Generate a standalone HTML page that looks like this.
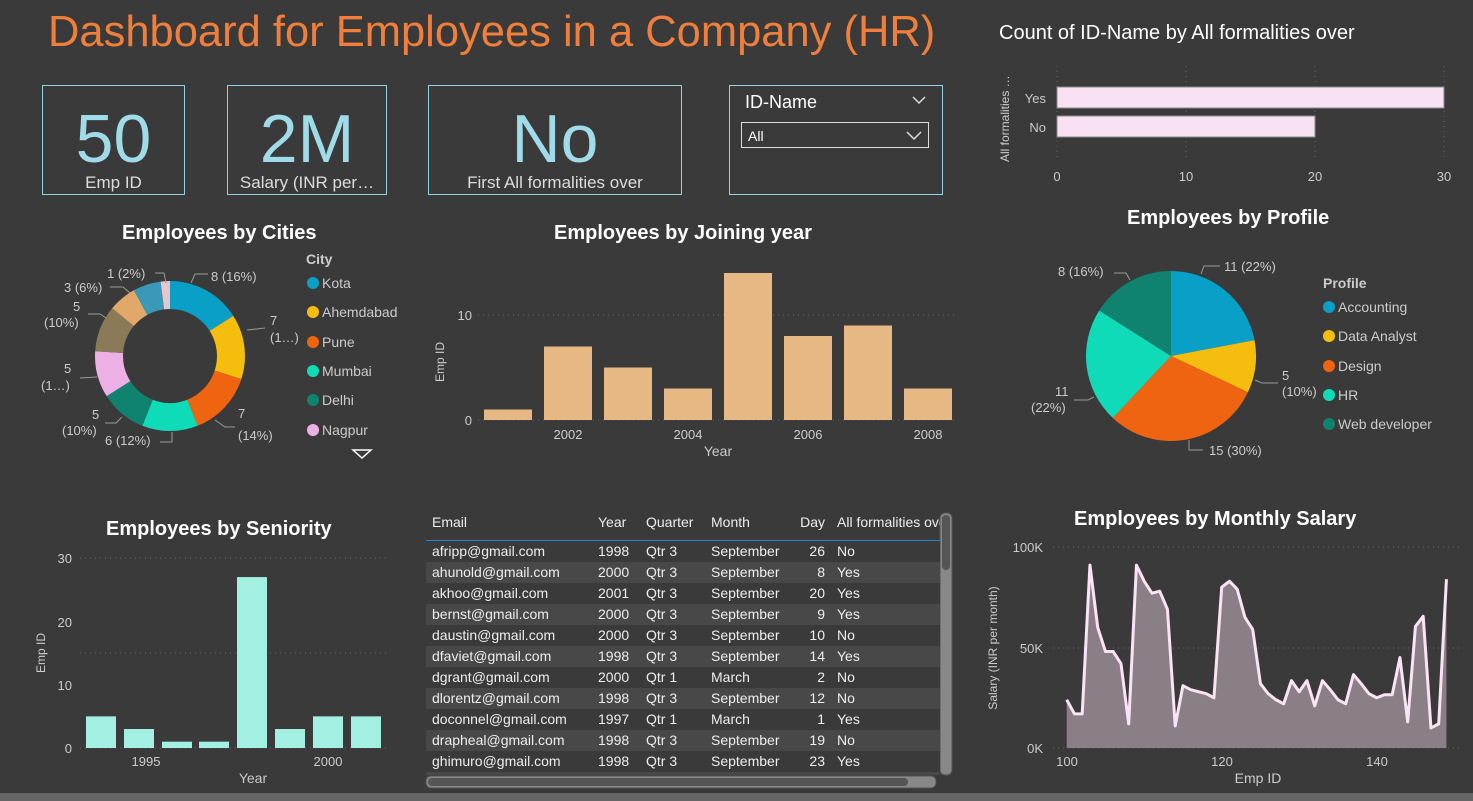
<!DOCTYPE html>
<html><head><meta charset="utf-8">
<style>
body{margin:0;width:1473px;height:801px;background:#3a3a3a;overflow:hidden;font-family:"Liberation Sans",sans-serif;color:#ddd;position:relative}
.a{position:absolute}
.kpi{position:absolute;border:1px solid #8fd3e0;box-sizing:border-box;text-align:center;color:#9fdbe8}
.kpi .v{font-size:68px;line-height:1;margin-top:19px}
.kpi .l{font-size:17px;color:#ddd;position:absolute;left:0;right:0;bottom:1px;white-space:nowrap;overflow:hidden}
.t{position:absolute;font-weight:bold;color:#fff;font-size:20px}
table{border-collapse:collapse;font-size:14px;color:#eee;table-layout:fixed;width:514px}
td{height:21px;padding:0 6px;white-space:nowrap;overflow:hidden}
</style></head><body>
<div class="a" style="left:48px;top:8px;font-size:43.5px;color:#f07f3c">Dashboard for Employees in a Company (HR)</div>
<div class="kpi" style="left:42px;top:85px;width:143px;height:110px"><div class="v">50</div><div class="l">Emp ID</div></div>
<div class="kpi" style="left:227px;top:85px;width:160px;height:110px"><div class="v">2M</div><div class="l">Salary (INR per…</div></div>
<div class="kpi" style="left:428px;top:85px;width:254px;height:110px"><div class="v">No</div><div class="l">First All formalities over</div></div>
<div class="a" style="left:729px;top:85px;width:214px;height:110px;border:1px solid #8fd3e0;box-sizing:border-box">
 <div class="a" style="left:15px;top:6px;font-size:18px;color:#fff">ID-Name</div>
 <svg class="a" style="left:182px;top:10px" width="14" height="9"><path d="M1,1 L7,7 L13,1" fill="none" stroke="#ddd" stroke-width="1.5"/></svg>
 <div class="a" style="left:11px;top:36px;width:188px;height:26px;border:1px solid #ddd;box-sizing:border-box;font-size:14px;color:#fff;padding:5px 6px">All<svg class="a" style="right:6px;top:8px" width="16" height="9"><path d="M1,1 L8,8 L15,1" fill="none" stroke="#ddd" stroke-width="1.5"/></svg></div>
</div>
<div class="a" style="left:999px;top:22px;font-size:20px;color:#fff">Count of ID-Name by All formalities over</div>
<div class="t" style="left:122px;top:222px">Employees by Cities</div>
<div class="t" style="left:554px;top:222px">Employees by Joining year</div>
<div class="t" style="left:1127px;top:207px">Employees by Profile</div>
<div class="t" style="left:106px;top:518px">Employees by Seniority</div>
<div class="t" style="left:1074px;top:508px">Employees by Monthly Salary</div>

<svg class="a" style="left:0;top:0" width="1473" height="801" font-family="Liberation Sans, sans-serif" font-size="13" fill="#ccc">
<g id="g"></g>
<g stroke="#666" stroke-dasharray="1 4">
<line x1="1057" y1="66" x2="1057" y2="160"/><line x1="1186" y1="66" x2="1186" y2="160"/><line x1="1315" y1="66" x2="1315" y2="160"/><line x1="1444" y1="66" x2="1444" y2="160"/>
</g>
<rect x="1057" y="87" width="387" height="21" fill="#f8e1f3" stroke="#888"/>
<rect x="1057" y="116" width="258" height="21" fill="#f8e1f3" stroke="#888"/>
<text x="1046" y="103" text-anchor="end">Yes</text><text x="1046" y="132" text-anchor="end">No</text>
<g text-anchor="middle"><text x="1057" y="181">0</text><text x="1186" y="181">10</text><text x="1315" y="181">20</text><text x="1444" y="181">30</text></g>
<text transform="translate(1009,162) rotate(-90)" font-size="12">All formalities …</text>
<text x="306" y="264" font-weight="bold" font-size="14">City</text>
<g font-size="14">
<circle cx="313" cy="283" r="6" fill="#0a9fc7"/><text x="322" y="288">Kota</text>
<circle cx="313" cy="312" r="6" fill="#f5bd0e"/><text x="322" y="317">Ahemdabad</text>
<circle cx="313" cy="342" r="6" fill="#ef6410"/><text x="322" y="347">Pune</text>
<circle cx="313" cy="371" r="6" fill="#10dbb8"/><text x="322" y="376">Mumbai</text>
<circle cx="313" cy="400" r="6" fill="#108270"/><text x="322" y="405">Delhi</text>
<circle cx="313" cy="430" r="6" fill="#edb0e4"/><text x="322" y="435">Nagpur</text>
</g>
<polygon points="353,450 371,450 362,458" fill="none" stroke="#fff" stroke-width="1.5"/>
<g font-size="13" fill="#ccc">
<text x="211" y="281">8 (16%)</text><text x="270" y="325">7</text><text x="270" y="342">(1…)</text>
<text x="238" y="418">7</text><text x="238" y="440">(14%)</text><text x="105" y="445">6 (12%)</text>
<text x="92" y="419">5</text><text x="62" y="435">(10%)</text>
<text x="64" y="373">5</text><text x="41" y="390">(1…)</text>
<text x="73" y="311">5</text><text x="44" y="327">(10%)</text>
<text x="64" y="292">3 (6%)</text><text x="107" y="278">1 (2%)</text>
</g>
<g stroke="#999" fill="none">
<path d="M191,283 L195,274 L208,274"/><path d="M247,330 L265,328"/><path d="M215,420 L225,427 L235,427"/><path d="M172,432 L172,442 L160,442"/><path d="M122,417 L116,423 L105,423"/><path d="M97,377 L80,378"/><path d="M106,318 L100,314 L88,314"/><path d="M130,293 L123,287 L110,287"/><path d="M166,283 L164,273 L155,273"/>
</g>
<g stroke="#666" stroke-dasharray="1 4"><line x1="478" y1="315" x2="955" y2="315"/><line x1="478" y1="420" x2="955" y2="420"/></g>
<g fill="#e6b883" id="jb"></g>
<text x="472" y="320" text-anchor="end">10</text><text x="472" y="425" text-anchor="end">0</text>
<g text-anchor="middle"><text x="568" y="439">2002</text><text x="688" y="439">2004</text><text x="808" y="439">2006</text><text x="928" y="439">2008</text><text x="718" y="456" font-size="14">Year</text></g>
<text transform="translate(444,362) rotate(-90)" font-size="12" text-anchor="middle">Emp ID</text>
<text x="1323" y="288" font-weight="bold" font-size="14">Profile</text>
<g font-size="14">
<circle cx="1329" cy="307" r="6" fill="#0a9fc7"/><text x="1338" y="312">Accounting</text>
<circle cx="1329" cy="336" r="6" fill="#f5bd0e"/><text x="1338" y="341">Data Analyst</text>
<circle cx="1329" cy="366" r="6" fill="#ef6410"/><text x="1338" y="371">Design</text>
<circle cx="1329" cy="395" r="6" fill="#10dbb8"/><text x="1338" y="400">HR</text>
<circle cx="1329" cy="424" r="6" fill="#108270"/><text x="1338" y="429">Web developer</text>
</g>
<g font-size="13">
<text x="1224" y="271">11 (22%)</text><text x="1282" y="380">5</text><text x="1282" y="396">(10%)</text>
<text x="1209" y="455">15 (30%)</text><text x="1055" y="396">11</text><text x="1031" y="412">(22%)</text><text x="1058" y="276">8 (16%)</text>
</g>
<g stroke="#999" fill="none"><path d="M1201,274 L1204,266 L1220,266"/><path d="M1255,380 L1262,383 L1278,383"/><path d="M1189,440 L1189,450 L1203,450"/><path d="M1094,397 L1088,400 L1074,400"/><path d="M1130,280 L1126,273 L1114,273"/></g>
<g stroke="#666" stroke-dasharray="1 4"><line x1="80" y1="558" x2="390" y2="558"/><line x1="80" y1="653" x2="390" y2="653"/><line x1="80" y1="748" x2="390" y2="748"/></g>
<g fill="#a3f0e3" id="sb"></g>
<g text-anchor="end"><text x="72" y="563">30</text><text x="72" y="627">20</text><text x="72" y="690">10</text><text x="72" y="753">0</text></g>
<g text-anchor="middle"><text x="146" y="766">1995</text><text x="328" y="766">2000</text><text x="253" y="783" font-size="14">Year</text></g>
<text transform="translate(45,653) rotate(-90)" font-size="12" text-anchor="middle">Emp ID</text>
<g stroke="#666" stroke-dasharray="1 4"><line x1="1053" y1="547" x2="1460" y2="547"/><line x1="1053" y1="648" x2="1460" y2="648"/><line x1="1053" y1="748" x2="1460" y2="748"/></g>
<path id="sa" fill="#8a7f86"/><path id="sl" fill="none" stroke="#fbe3f5" stroke-width="3" stroke-linejoin="round"/>
<g text-anchor="end"><text x="1043" y="552">100K</text><text x="1043" y="653">50K</text><text x="1043" y="753">0K</text></g>
<g text-anchor="middle"><text x="1067" y="766">100</text><text x="1222" y="766">120</text><text x="1377" y="766">140</text><text x="1258" y="783" font-size="14">Emp ID</text></g>
<text transform="translate(997,648) rotate(-90)" font-size="12" text-anchor="middle">Salary (INR per month)</text>
<rect x="940" y="513" width="12" height="262" rx="5" fill="#888" stroke="#555"/>
<rect x="942" y="515" width="8" height="55" rx="4" fill="#555"/>
<rect x="426" y="776" width="510" height="12" rx="5" fill="#888" stroke="#555"/>
<rect x="428" y="778" width="480" height="8" rx="4" fill="#555"/>
<rect x="0" y="793" width="1473" height="8" fill="#666"/>
</svg>

<div class="a" style="left:426px;top:505px;width:514px;height:270px;overflow:hidden">
<table>
<colgroup><col style="width:166px"><col style="width:48px"><col style="width:65px"><col style="width:82px"><col style="width:44px"><col style="width:109px"></colgroup>
<tr style="height:35px"><td>Email</td><td>Year</td><td>Quarter</td><td>Month</td><td style="text-align:right">Day</td><td>All formalities over</td></tr>
<tr><td colspan="6" style="height:0;padding:0;border-top:1px solid #2a7fd0"></td></tr>
<tbody id="tb"></tbody>
</table>
</div>

<script>
const NS="http://www.w3.org/2000/svg";
function arc(cx,cy,r0,r1,a0,a1,col){
 const L=a1-a0>Math.PI?1:0;
 let d=`M${cx+r1*Math.sin(a0)},${cy-r1*Math.cos(a0)} A${r1},${r1} 0 ${L} 1 ${cx+r1*Math.sin(a1)},${cy-r1*Math.cos(a1)}`;
 if(r0>0)d+=` L${cx+r0*Math.sin(a1)},${cy-r0*Math.cos(a1)} A${r0},${r0} 0 ${L} 0 ${cx+r0*Math.sin(a0)},${cy-r0*Math.cos(a0)}Z`;else d+=` L${cx},${cy}Z`;
 const e=document.createElementNS(NS,"path");e.setAttribute("d",d);e.setAttribute("fill",col);document.getElementById("g").appendChild(e);}
function pie(cx,cy,r0,r1,vals,cols){const s=vals.reduce((a,b)=>a+b);let a=0;vals.forEach((v,i)=>{const b=a+v/s*2*Math.PI;arc(cx,cy,r0,r1,a,b,cols[i]);a=b;});}
pie(170,356,47,75,[8,7,7,6,5,5,5,3,3,1],["#0a9fc7","#f5bd0e","#ef6410","#10dbb8","#108270","#edb0e4","#8a7a58","#e2a86a","#3a98b8","#e8c4cc"]);
pie(1171,356,0,85,[11,5,15,11,8],["#0a9fc7","#f5bd0e","#ef6410","#10dbb8","#108270"]);
function bars(id,xs,hs,w,base,k){const g=document.getElementById(id);xs.forEach((x,i)=>{const r=document.createElementNS(NS,"rect");r.setAttribute("x",x-w/2);r.setAttribute("y",base-hs[i]*k);r.setAttribute("width",w);r.setAttribute("height",hs[i]*k);g.appendChild(r);});}
bars("jb",[508,568,628,688,748,808,868,928],[1,7,5,3,14,8,9,3],48,420,10.5);
bars("sb",[101,139,177,214,252,290,328,366],[5,3,1,1,27,3,5,5],30,748,6.33);
const v=[24,17,17,91,60,48,48,42,12,91,83,77,78,69,11,31,29,28,27,25,80,83,79,65,59,32,27,24,22,33.5,28,33.5,21,33.5,29,24,22,36.5,32,27,25,26.5,26.5,45,13,60.5,65.5,10,12,84];
let pts=v.map((y,i)=>[1066.7+i*7.75,748-y*2.01]);
let d="M"+pts.map(p=>p.join(",")).join(" L");
document.getElementById("sl").setAttribute("d",d);
document.getElementById("sa").setAttribute("d",d+` L${pts[49][0]},748 L${pts[0][0]},748Z`);
const rows=[["afripp","1998","Qtr 3","September","26","No"],["ahunold","2000","Qtr 3","September","8","Yes"],["akhoo","2001","Qtr 3","September","20","Yes"],["bernst","2000","Qtr 3","September","9","Yes"],["daustin","2000","Qtr 3","September","10","No"],["dfaviet","1998","Qtr 3","September","14","Yes"],["dgrant","2000","Qtr 1","March","2","No"],["dlorentz","1998","Qtr 3","September","12","No"],["doconnel","1997","Qtr 1","March","1","Yes"],["drapheal","1998","Qtr 3","September","19","No"],["ghimuro","1998","Qtr 3","September","23","Yes"],["hbaer","1999","Qtr 3","September","6","No"]];
document.getElementById("tb").innerHTML=rows.map((r,i)=>`<tr style="background:${i%2?'#484848':'#3a3a3a'}"><td>${r[0]}@gmail.com</td><td>${r[1]}</td><td>${r[2]}</td><td>${r[3]}</td><td style="text-align:right">${r[4]}</td><td>${r[5]}</td></tr>`).join("");
</script>
</body></html>
